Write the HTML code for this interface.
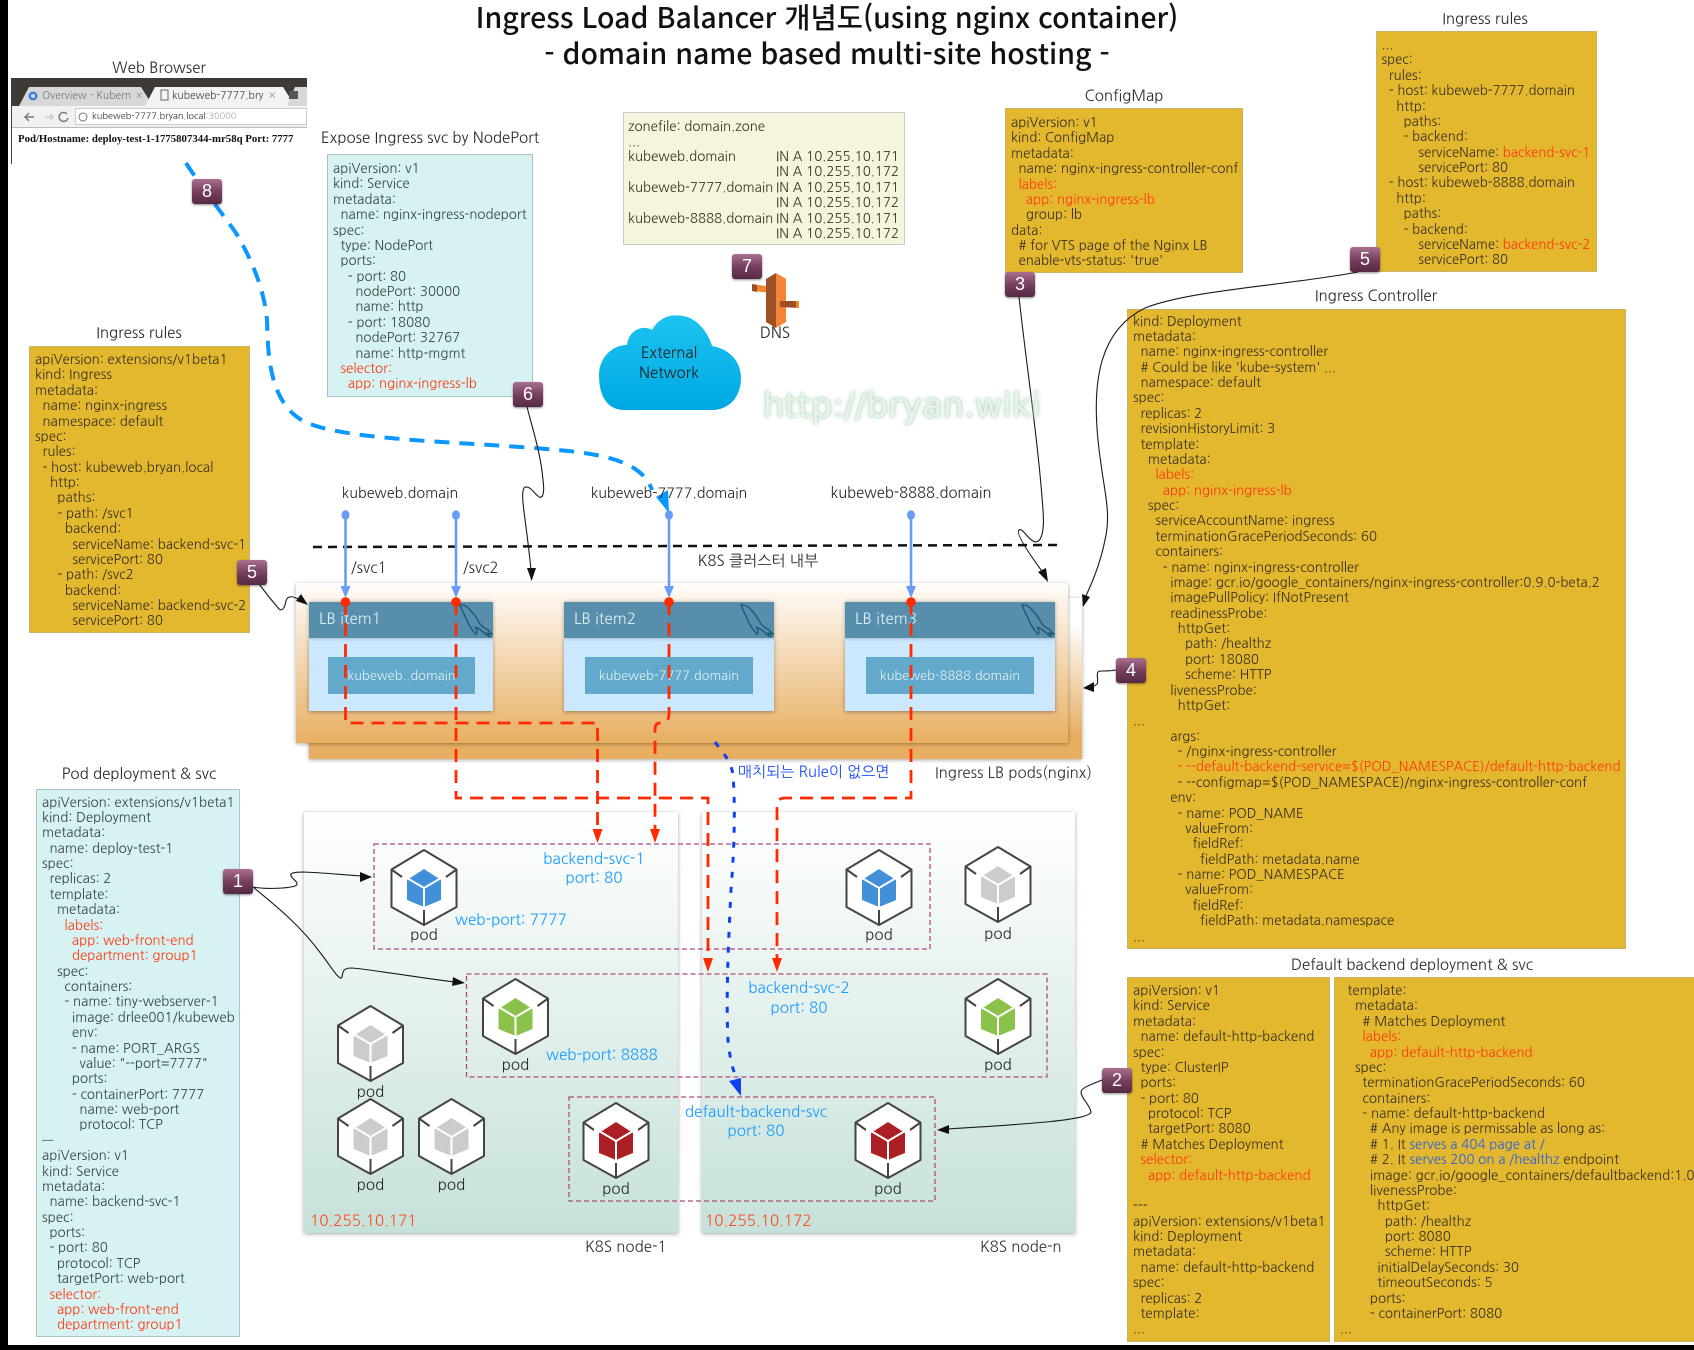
<!DOCTYPE html>
<html lang="ko"><head><meta charset="utf-8"><title>Ingress Load Balancer</title>
<style>
html,body{margin:0;padding:0;background:#fff}
#p{position:relative;width:1694px;height:1350px;overflow:hidden;background:#fff;font-family:"NanumGothic","Liberation Sans","Noto Sans CJK KR",sans-serif;color:#333;filter:blur(.35px)}
.a{position:absolute}
.y{position:absolute;white-space:pre;font-size:13.35px;line-height:15.37px;color:#3a3320;border:1px solid #b9b39a;box-sizing:border-box;overflow:hidden}
.g{background:#E3B72E;border-color:#c9b36a}
.c{background:#D6F2F3;border-color:#a9c4c6;color:#3c4444}
.r{color:#FF3A0E}.b{color:#2a5fe0}
.t{position:absolute;white-space:nowrap;font-size:15.1px;line-height:18px;color:#2b2b2b;transform:translateX(-50%)}
.d{font-size:14.4px}
.l{position:absolute;white-space:nowrap;font-size:15.3px;line-height:18px;color:#1A9CFF}
.m{position:absolute;width:30px;height:25px;border-radius:3px;background:linear-gradient(#A9708F,#77405E 50%,#552A42);color:#fff;font-size:18px;line-height:25px;text-align:center;box-shadow:0 1px 2px rgba(0,0,0,.45);z-index:5;font-family:"Liberation Sans",sans-serif}
.pn{position:absolute;box-shadow:0 1px 4px rgba(0,0,0,.35)}
.h{position:absolute;background:#568EAB;color:#d9edf7;font-size:15.4px;line-height:36px;height:36px;box-sizing:border-box;padding-left:10px;top:602px}
.bd{position:absolute;background:#CCE8FF;top:638px;height:73px}
.in{position:absolute;background:#62A9CC;top:657px;height:37px;color:#dceef5;font-size:12.9px;line-height:37px;text-align:center;white-space:nowrap}
.pd{position:absolute;white-space:nowrap;font-size:15.1px;line-height:18px;color:#2b2b2b;transform:translateX(-50%)}
</style></head><body><div id="p">

<div class="a" style="left:0;top:0;width:8px;height:1350px;background:#000"></div>
<div class="a" style="left:0;top:1345px;width:1694px;height:5px;background:#000"></div>

<div class="a" style="left:0;top:0;width:1654px;text-align:center;font-family:'Noto Sans CJK KR','Liberation Sans',sans-serif;font-weight:500;font-size:28.5px;line-height:36px;color:#111"><div style="position:absolute;left:0;right:0;top:-1.5px">Ingress Load Balancer 개념도(using nginx container)</div><div style="position:absolute;left:0;right:0;top:35px">- domain name based multi-site hosting -</div></div>

<!-- browser -->
<div class="t" style="left:159px;top:60px">Web Browser</div>
<div class="a" style="left:11px;top:78px;width:296px;height:86px;overflow:hidden">
 <div class="a" style="left:0;top:0;width:296px;height:28px;background:#3d3a38"></div>
 <svg class="a" style="left:0;top:0" width="296" height="30">
  <polygon points="8,28 18,9 130,9 142,28" fill="#d8d8d8"/>
  <polygon points="134,28 144,9 272,9 284,28" fill="#f3f3f3"/>
  <polygon points="276,28 284,9 296,9 296,28" fill="#d8d8d8"/>
  <circle cx="22" cy="18" r="4.5" fill="#3f7fe0"/><circle cx="22" cy="18" r="2" fill="#cfe0fa"/>
  <rect x="150" y="12" width="7" height="10" fill="none" stroke="#666"/>
  <rect x="278" y="13" width="9" height="8" fill="#555"/>
 </svg>
 <div class="a" style="left:31px;top:10px;font-size:10.4px;line-height:16px;color:#777;white-space:nowrap">Overview - Kubern</div>
 <div class="a" style="left:125px;top:10px;font-size:11px;color:#888;line-height:16px">×</div>
 <div class="a" style="left:161px;top:10px;font-size:10.4px;line-height:16px;color:#444;white-space:nowrap;width:92px;overflow:hidden">kubeweb-7777.bryan</div>
 <div class="a" style="left:258px;top:10px;font-size:11px;color:#888;line-height:16px">×</div>
 <div class="a" style="left:0;top:28px;width:296px;height:22px;background:#f1f1f1;border-bottom:1px solid #bbb;box-sizing:border-box"></div>
 <div class="a" style="left:64px;top:30px;width:232px;height:17px;background:#fff;border:1px solid #ccc;box-sizing:border-box"></div>
 <svg class="a" style="left:0;top:28px" width="80" height="22"><path d="M23 11H14M18 7l-4 4 4 4" stroke="#777" stroke-width="1.4" fill="none"/><path d="M34 11h8M39 8l3 3-3 3" stroke="#ccc" stroke-width="1.4" fill="none"/><path d="M56 8a4.5 4.5 0 1 0 1 4" stroke="#777" stroke-width="1.4" fill="none"/><circle cx="72" cy="11" r="4" fill="none" stroke="#777"/></svg>
 <div class="a" style="left:81px;top:31px;font-size:9.2px;line-height:15px;color:#333;white-space:nowrap">kubeweb-7777.bryan.local<span style="color:#aaa">:30000</span></div>
 <div class="a" style="left:7px;top:54px;font-family:'Liberation Serif',serif;font-weight:bold;font-size:10.77px;line-height:14px;color:#111;white-space:nowrap">Pod/Hostname: deploy-test-1-1775807344-mr58q Port: 7777</div>
 <div class="a" style="left:0;top:28px;width:1px;height:58px;background:#444"></div>
</div>

<!-- yaml boxes -->
<div class="t" style="left:430px;top:130px">Expose Ingress svc by NodePort</div>
<div class="y c" style="left:327px;top:154px;width:206px;height:243px;padding:6px 0 0 5px;font-size:13.3px">apiVersion: v1
kind: Service
metadata:
  name: nginx-ingress-nodeport
spec:
  type: NodePort
  ports:
    - port: 80
      nodePort: 30000
      name: http
    - port: 18080
      nodePort: 32767
      name: http-mgmt
<span class="r">  selector:
    app: nginx-ingress-lb</span></div>

<div class="t" style="left:139px;top:325px">Ingress rules</div>
<div class="y g" style="left:29px;top:346px;width:221px;height:287px;padding:5px 0 0 5px">apiVersion: extensions/v1beta1
kind: Ingress
metadata:
  name: nginx-ingress
  namespace: default
spec:
  rules:
  - host: kubeweb.bryan.local
    http:
      paths:
      - path: /svc1
        backend:
          serviceName: backend-svc-1
          servicePort: 80
      - path: /svc2
        backend:
          serviceName: backend-svc-2
          servicePort: 80</div>

<div class="t" style="left:139px;top:766px">Pod deployment &amp; svc</div>
<div class="y c" style="left:36px;top:789px;width:204px;height:548px;padding:4.5px 0 0 5px">apiVersion: extensions/v1beta1
kind: Deployment
metadata:
  name: deploy-test-1
spec:
  replicas: 2
  template:
    metadata:
<span class="r">      labels:
        app: web-front-end
        department: group1</span>
    spec:
      containers:
      - name: tiny-webserver-1
        image: drlee001/kubeweb
        env:
        - name: PORT_ARGS
          value: "--port=7777"
        ports:
        - containerPort: 7777
          name: web-port
          protocol: TCP
—
apiVersion: v1
kind: Service
metadata:
  name: backend-svc-1
spec:
  ports:
  - port: 80
    protocol: TCP
    targetPort: web-port
<span class="r">  selector:
    app: web-front-end
    department: group1</span></div>

<div class="y" style="left:623px;top:112px;width:282px;height:133px;padding:5.5px 0 0 4px;background:#F6F4DC;border-color:#ccc;font-size:13.35px">zonefile: domain.zone
...
kubeweb.domain
 
kubeweb-7777.domain
 
kubeweb-8888.domain</div>
<div class="a" style="left:776px;top:149px;white-space:pre;font-size:13.35px;line-height:15.37px;color:#3a3320">IN A 10.255.10.171
IN A 10.255.10.172
IN A 10.255.10.171
IN A 10.255.10.172
IN A 10.255.10.171
IN A 10.255.10.172</div>

<div class="t" style="left:1124px;top:88px">ConfigMap</div>
<div class="y g" style="left:1005px;top:108px;width:238px;height:165px;padding:6px 0 0 5px;font-size:13.3px">apiVersion: v1
kind: ConfigMap
metadata:
  name: nginx-ingress-controller-conf
<span class="r">  labels:
    app: nginx-ingress-lb</span>
    group: lb
data:
  # for VTS page of the Nginx LB
  enable-vts-status: 'true'</div>

<div class="t" style="left:1485px;top:11px">Ingress rules</div>
<div class="y g" style="left:1376px;top:31px;width:221px;height:241px;padding:5px 0 0 4.5px;font-size:13.2px">...
spec:
  rules:
  - host: kubeweb-7777.domain
    http:
      paths:
      - backend:
          serviceName: <span class="r">backend-svc-1</span>
          servicePort: 80
  - host: kubeweb-8888.domain
    http:
      paths:
      - backend:
          serviceName: <span class="r">backend-svc-2</span>
          servicePort: 80</div>

<div class="t" style="left:1376px;top:288px">Ingress Controller</div>
<div class="y g" style="left:1127px;top:309px;width:499px;height:640px;padding:3.5px 0 0 5px;font-size:13.3px">kind: Deployment
metadata:
  name: nginx-ingress-controller
  # Could be like 'kube-system' ...
  namespace: default
spec:
  replicas: 2
  revisionHistoryLimit: 3
  template:
    metadata:
<span class="r">      labels:
        app: nginx-ingress-lb</span>
    spec:
      serviceAccountName: ingress
      terminationGracePeriodSeconds: 60
      containers:
        - name: nginx-ingress-controller
          image: gcr.io/google_containers/nginx-ingress-controller:0.9.0-beta.2
          imagePullPolicy: IfNotPresent
          readinessProbe:
            httpGet:
              path: /healthz
              port: 18080
              scheme: HTTP
          livenessProbe:
            httpGet:
...
          args:
            - /nginx-ingress-controller
<span class="r">            - --default-backend-service=$(POD_NAMESPACE)/default-http-backend</span>
            - --configmap=$(POD_NAMESPACE)/nginx-ingress-controller-conf
          env:
            - name: POD_NAME
              valueFrom:
                fieldRef:
                  fieldPath: metadata.name
            - name: POD_NAMESPACE
              valueFrom:
                fieldRef:
                  fieldPath: metadata.namespace
...</div>

<div class="t" style="left:1412px;top:957px">Default backend  deployment &amp; svc</div>
<div class="y g" style="left:1127px;top:977px;width:203px;height:365px;padding:5px 0 0 5px">apiVersion: v1
kind: Service
metadata:
  name: default-http-backend
spec:
  type: ClusterIP
  ports:
  - port: 80
    protocol: TCP
    targetPort: 8080
  # Matches Deployment
<span class="r">  selector:
    app: default-http-backend</span>

---
apiVersion: extensions/v1beta1
kind: Deployment
metadata:
  name: default-http-backend
spec:
  replicas: 2
  template:
...</div>
<div class="y g" style="left:1334px;top:977px;width:360px;height:365px;padding:5px 0 0 5px;border-right:0">  template:
    metadata:
      # Matches Deployment
<span class="r">      labels:
        app: default-http-backend</span>
    spec:
      terminationGracePeriodSeconds: 60
      containers:
      - name: default-http-backend
        # Any image is permissable as long as:
        # 1. It <span class="b">serves a 404 page at /</span>
        # 2. It <span class="b">serves 200 on a /healthz</span> endpoint
        image: gcr.io/google_containers/defaultbackend:1.0
        livenessProbe:
          httpGet:
            path: /healthz
            port: 8080
            scheme: HTTP
          initialDelaySeconds: 30
          timeoutSeconds: 5
        ports:
        - containerPort: 8080
...</div>

<!-- LB panels -->
<div class="pn" style="left:309px;top:598px;width:773px;height:161px;background:linear-gradient(#fff,#fff 15%,#E8AF62 85%)"></div>
<div class="pn" style="left:296px;top:583px;width:772px;height:160px;background:linear-gradient(#fffdfa,#F5DDBE 40%,#E8AF62)"></div>
<div class="bd pn" style="left:309px;width:184px"></div>
<div class="h" style="left:309px;width:184px;box-shadow:0 0 4px rgba(0,0,0,.3)">LB item1</div>
<div class="in" style="left:328px;width:147px">kubeweb..domain</div>
<div class="bd pn" style="left:564px;width:210px"></div>
<div class="h" style="left:564px;width:210px;box-shadow:0 0 4px rgba(0,0,0,.3)">LB item2</div>
<div class="in" style="left:585px;width:168px">kubeweb-7777.domain</div>
<div class="bd pn" style="left:845px;width:210px"></div>
<div class="h" style="left:845px;width:210px;box-shadow:0 0 4px rgba(0,0,0,.3)">LB item3</div>
<div class="in" style="left:866px;width:168px">kubeweb-8888.domain</div>

<!-- K8S nodes -->
<div class="pn" style="left:304px;top:812px;width:374px;height:421px;background:linear-gradient(#fff,#C6E1D9)"></div>
<div class="pn" style="left:702px;top:812px;width:373px;height:421px;background:linear-gradient(#fff,#C6E1D9)"></div>

<svg class="a" style="left:0;top:0;z-index:2" width="1694" height="1350" viewBox="0 0 1694 1350">
<defs>
 <symbol id="pod" viewBox="0 0 66 75" overflow="visible">
  <polygon points="33,0 65.5,19.5 65.5,57 33,75 0.5,57 0.5,19.5" fill="#fff" stroke="#444" stroke-width="2" stroke-linejoin="round"/>
  <path d="M0.5 19.5L11 27M65.5 19.5L55 27M33 75V60" stroke="#444" stroke-width="2" fill="none"/>
  <polygon points="33,19 50,30 50,50 33,57 16,50 16,30" fill="currentColor"/>
  <path d="M16 28L33 38L50 28M33 38V58" stroke="#fff" stroke-width="2" fill="none"/>
 </symbol>
 <symbol id="dol" viewBox="0 0 35 35"><path d="M1 1C6 0 10 4 13 8C16 11 18 14 20 18C22 22 26 25 29 26L34 31L29 30L32 34L27 31C24 28 21 25 17 24C19 28 19 31 17 31L14 27C10 22 8 17 6 12C4 8 2 4 1 1Z" fill="none" stroke="#1f5a78" stroke-width="1.5"/></symbol>
</defs>

<use href="#dol" x="459" y="604" width="34" height="34"/>
<use href="#dol" x="740" y="604" width="34" height="34"/>
<use href="#dol" x="1021" y="604" width="34" height="34"/>

<!-- dashed groups -->
<g fill="none" stroke="#B04A7E" stroke-width="1.3" stroke-dasharray="5 3">
 <rect x="374" y="844" width="556" height="105"/>
 <rect x="466.5" y="974" width="580.5" height="103"/>
 <rect x="569" y="1097" width="366" height="104"/>
</g>

<!-- pods -->
<use href="#pod" x="391" y="850" width="66" height="75" color="#4290D9"/>
<use href="#pod" x="846" y="850" width="66" height="75" color="#4290D9"/>
<use href="#pod" x="965" y="847" width="66" height="75" color="#CCCCCC"/>
<use href="#pod" x="482.5" y="979" width="66" height="75" color="#8BC34A"/>
<use href="#pod" x="965" y="979" width="66" height="75" color="#8BC34A"/>
<use href="#pod" x="337.5" y="1006" width="66" height="75" color="#CCCCCC"/>
<use href="#pod" x="337.5" y="1099" width="66" height="75" color="#CCCCCC"/>
<use href="#pod" x="418.5" y="1099" width="66" height="75" color="#CCCCCC"/>
<use href="#pod" x="583" y="1103" width="66" height="75" color="#AC1F24"/>
<use href="#pod" x="855" y="1103" width="66" height="75" color="#AC1F24"/>

<!-- black dashed -->
<path d="M313 547L1059 545" stroke="#111" stroke-width="2.5" stroke-dasharray="9 6" fill="none"/>

<!-- red dashed -->
<g fill="none" stroke="#FF2A00" stroke-width="2.8" stroke-dasharray="13 8">
 <path d="M345.5 602V723H597.5V832"/>
 <path d="M456 602V798H708V958"/>
 <path d="M669 602V714Q669 723 660 723Q655 723 655 730V832"/>
 <path d="M911 602V798H785Q777 798 777 806V958"/>
</g>
<g fill="#FF2A00">
 <polygon points="597.5,843 592.5,829 602.5,829"/>
 <polygon points="655,843 650,829 660,829"/>
 <polygon points="708,972 703,958 713,958"/>
 <polygon points="777,972 772,958 782,958"/>
</g>

<!-- blue dotted -->
<path d="M715 742C722 752 731 760 733 775C735 800 735 840 731 890C728 950 726 1000 728 1040C730 1060 733 1070 737 1080" fill="none" stroke="#1040F0" stroke-width="3" stroke-dasharray="6 9"/>
<polygon points="741,1096 729,1081 741,1078" fill="#1040F0"/>

<!-- big blue dashed -->
<path d="M186 163C200 185 216 205 236 233C255 265 265 295 267 320C268 350 268 395 297 417C325 438 420 440 520 447C590 452 640 456 652 490" fill="none" stroke="#0A97FF" stroke-width="4" stroke-dasharray="15 10"/>

<!-- ingress arrows -->
<g stroke="#6A9CF5" stroke-width="2.6" fill="#6A9CF5">
 <path d="M345.5 515V590M456 515V590M669 515V590M911 515V590" fill="none"/>
 <polygon stroke="none" points="345.5,598 340.5,586 350.5,586"/>
 <polygon stroke="none" points="456,598 451,586 461,586"/>
 <polygon stroke="none" points="669,598 664,586 674,586"/>
 <polygon stroke="none" points="911,598 906,586 916,586"/>
 <ellipse stroke="none" cx="345.5" cy="515" rx="4" ry="4.8"/>
 <ellipse stroke="none" cx="456" cy="515" rx="4" ry="4.8"/>
 <ellipse stroke="none" cx="911" cy="515" rx="4" ry="4.8"/>
</g>
<polygon points="669,513 656,497 668,490" fill="#0A97FF"/>
<ellipse cx="669" cy="515" rx="4" ry="4.8" fill="#6A9CF5"/>
<g fill="#FF2A00">
 <circle cx="345.5" cy="602" r="4.8"/><circle cx="456" cy="602" r="4.8"/><circle cx="669" cy="602" r="4.8"/><circle cx="911" cy="602" r="4.8"/>
</g>

<!-- black curved connectors -->
<g fill="none" stroke="#1a1a1a" stroke-width="1.1">
 <path d="M1358 272C1290 285 1190 290 1145 308C1100 330 1092 380 1098 440C1103 490 1112 510 1105 540C1100 565 1091 585 1085 598"/>
 <path d="M1019 297C1027 370 1038 440 1043 510C1045 535 1040 545 1033 541C1026 537 1023 528 1019 530C1015 533 1030 555 1044 574"/>
 <path d="M527 407C533 430 541 455 543 480C545 495 542 500 538 496C533 492 530 486 525 487C520 490 524 510 527 535C529 550 530 560 531 570"/>
 <path d="M259 584C265 592 273 602 279 609C283 612 285 606 286 601C287 596 292 596 296 598C299 600 302 601 304 603"/>
 <path d="M253 887C262 889 285 889 295 886C302 883 289 878 291 874C295 870 320 873 362 876"/>
 <path d="M253 887C275 905 300 925 322 955C332 968 340 982 342 977C343 970 344 968 352 968C375 970 420 978 455 982"/>
 <path d="M1102 1080C1090 1085 1081 1088 1081 1092C1081 1098 1090 1105 1091 1112C1090 1120 1030 1124 947 1129"/>
 <path d="M1116 670C1105 672 1099 670 1098 672C1096 675 1099 682 1097 684C1095 686 1092 687 1092 687"/>
</g>
<g fill="#111">
 <polygon points="1083,607 1082,594 1090,597"/>
 <polygon points="1048,582 1038,572 1046,568"/>
 <polygon points="531.6,581 527,568 536,568"/>
 <polygon points="308,605 296,601 301,594"/>
 <polygon points="372,877 360,872 360,882"/>
 <polygon points="465,983 453,977 452,986"/>
 <polygon points="937,1130 949,1125 949,1134"/>
 <polygon points="1083,688 1094,682 1094,692"/>
</g>

<!-- cloud -->
<defs><linearGradient id="cl" x1="0" y1="0" x2="0" y2="1"><stop offset="0" stop-color="#1CC4F0"/><stop offset="1" stop-color="#00A8E4"/></linearGradient></defs>
<path d="M625 410C605 410 599 393 599 375C599 358 612 345 627 345C629 328 645 325 652 330C660 316 672 314 683 316C697 318 708 332 712 346C730 349 741 362 741 378C741 396 730 410 712 410Z" fill="url(#cl)"/>

<!-- DNS -->
<polygon points="752,284 772,287 772,293 752,291" fill="#F58534"/>
<polygon points="752,284 752,291 757,292 757,285" fill="#9D5025"/>
<polygon points="766,279 776,273 776,328 766,322" fill="#9D5025"/>
<polygon points="776,273 786,279 786,322 776,328" fill="#F58534"/>
<polygon points="780,301 799,301 799,308 780,307" fill="#9D5025"/>
<polygon points="796,301 799,301 799,308 796,308" fill="#F58534"/>
</svg>

<!-- text over svg -->
<div class="a" style="z-index:3;left:763px;top:385px;font-family:'DejaVu Sans',sans-serif;font-size:33.8px;line-height:42px;white-space:nowrap;color:#e6f4ea;text-shadow:0 0 3px #a9cdb4,0 0 6px #cfe5d6">http://bryan.wiki</div>
<div class="t" style="z-index:3;left:669px;top:345px;color:#222">External</div>
<div class="t" style="z-index:3;left:669px;top:365px;color:#222">Network</div>
<div class="t" style="z-index:3;left:775px;top:325px;color:#222">DNS</div>

<div class="t d" style="z-index:3;left:400px;top:484.5px">kubeweb.domain</div>
<div class="t d" style="z-index:3;left:669px;top:484.5px">kubeweb-7777.domain</div>
<div class="t d" style="z-index:3;left:911px;top:484.5px;font-size:14.8px">kubeweb-8888.domain</div>
<div class="a" style="z-index:3;left:351px;top:560px;font-size:15px;line-height:18px">/svc1</div>
<div class="a" style="z-index:3;left:463px;top:560px;font-size:15px;line-height:18px">/svc2</div>
<div class="t" style="z-index:3;left:758px;top:553px;font-family:'NanumGothic','Noto Sans CJK KR',sans-serif">K8S 클러스터 내부</div>
<div class="a" style="z-index:3;left:738px;top:764px;font-size:15px;line-height:18px;white-space:nowrap;color:#1B4DFF">매치되는 Rule이 없으면</div>
<div class="a" style="z-index:3;left:935px;top:765px;font-size:15.1px;line-height:18px;white-space:nowrap">Ingress LB pods(nginx)</div>

<div class="l" style="z-index:3;left:594px;top:851px;transform:translateX(-50%)">backend-svc-1</div>
<div class="l" style="z-index:3;left:594px;top:870px;transform:translateX(-50%)">port: 80</div>
<div class="l" style="z-index:3;left:455px;top:912px">web-port: 7777</div>
<div class="l" style="z-index:3;left:799px;top:980px;transform:translateX(-50%)">backend-svc-2</div>
<div class="l" style="z-index:3;left:799px;top:1000px;transform:translateX(-50%)">port: 80</div>
<div class="l" style="z-index:3;left:546px;top:1047px">web-port: 8888</div>
<div class="l" style="z-index:3;left:756px;top:1103.5px;transform:translateX(-50%)">default-backend-svc</div>
<div class="l" style="z-index:3;left:756px;top:1122.5px;transform:translateX(-50%)">port: 80</div>
<div class="l" style="z-index:3;left:310px;top:1213px;color:#FF4A1E">10.255.10.171</div>
<div class="l" style="z-index:3;left:705px;top:1213px;color:#FF4A1E">10.255.10.172</div>
<div class="a" style="z-index:3;left:585px;top:1239px;font-size:15.1px;line-height:18px;white-space:nowrap">K8S node-1</div>
<div class="a" style="z-index:3;left:980px;top:1239px;font-size:15.1px;line-height:18px;white-space:nowrap">K8S node-n</div>

<div class="pd" style="z-index:3;left:424px;top:927px">pod</div>
<div class="pd" style="z-index:3;left:879px;top:927px">pod</div>
<div class="pd" style="z-index:3;left:998px;top:926px">pod</div>
<div class="pd" style="z-index:3;left:515.5px;top:1057px">pod</div>
<div class="pd" style="z-index:3;left:998px;top:1057px">pod</div>
<div class="pd" style="z-index:3;left:370.5px;top:1084px">pod</div>
<div class="pd" style="z-index:3;left:370.5px;top:1177px">pod</div>
<div class="pd" style="z-index:3;left:451.5px;top:1177px">pod</div>
<div class="pd" style="z-index:3;left:616px;top:1181px">pod</div>
<div class="pd" style="z-index:3;left:888px;top:1181px">pod</div>

<!-- badges -->
<div class="m" style="left:192px;top:179px">8</div>
<div class="m" style="left:513px;top:382px">6</div>
<div class="m" style="left:732px;top:254px">7</div>
<div class="m" style="left:1005px;top:272px">3</div>
<div class="m" style="left:1350px;top:247px">5</div>
<div class="m" style="left:237px;top:560px">5</div>
<div class="m" style="left:223px;top:869px">1</div>
<div class="m" style="left:1102px;top:1068px">2</div>
<div class="m" style="left:1116px;top:658px">4</div>
</div></body></html>
